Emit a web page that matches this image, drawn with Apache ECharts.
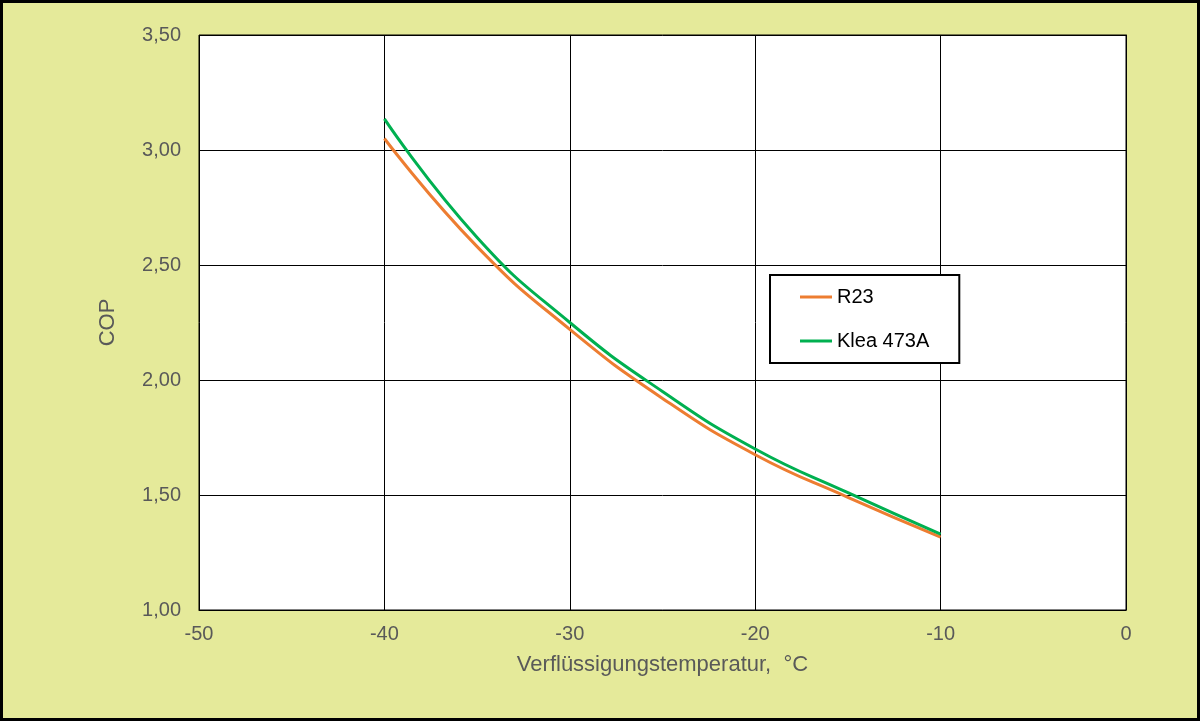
<!DOCTYPE html>
<html><head><meta charset="utf-8">
<script src="https://cdn.jsdelivr.net/npm/echarts@6/dist/echarts.min.js"></script>
<style>html,body{margin:0;padding:0;background:#e5ea9a;}#c{width:1200px;height:721px;box-sizing:border-box;border:3px solid #000;}</style>
</head><body><div id="c"></div>
<script>
const xValues = [-40, -35, -30, -25, -20, -15, -10];
const r23 = [3.05, 2.58, 2.22, 1.92, 1.675, 1.49, 1.317];
const klea = [3.135, 2.62, 2.25, 1.95, 1.70, 1.51, 1.33];
const names = ['R23', 'Klea 473A'];
const chart = echarts.init(document.getElementById('c'));
const font = 'Liberation Sans, Arial, sans-serif';
chart.setOption({
  backgroundColor: '#e5ea9a',
  animation: false,
  grid: {left: 196, top: 32, width: 927, height: 575},
  xAxis: {type: 'value', min: -50, max: 0, interval: 10,
    name: 'Verflüssigungstemperatur,  °C', nameLocation: 'middle', nameGap: 44,
    nameTextStyle: {color: '#595959', fontSize: 22, fontFamily: font},
    axisLine: {onZero: false, lineStyle: {color: '#000'}}, axisTick: {show: false},
    axisLabel: {color: '#595959', fontSize: 20, fontFamily: font, margin: 14},
    splitLine: {lineStyle: {color: '#000', width: 1}}},
  yAxis: {type: 'value', min: 1, max: 3.5, interval: 0.5,
    name: 'COP', nameLocation: 'middle', nameGap: 80,
    nameTextStyle: {color: '#595959', fontSize: 22, fontFamily: font},
    axisLine: {show: true, lineStyle: {color: '#000'}}, axisTick: {show: false},
    axisLabel: {color: '#595959', fontSize: 20, fontFamily: font, margin: 18,
      formatter: v => v.toFixed(2).replace('.', ',')},
    splitLine: {lineStyle: {color: '#000', width: 1}}},
  legend: {orient: 'vertical', left: 767, top: 272, width: 228, height: 102,
    padding: [12, 30, 12, 30], itemGap: 24, itemWidth: 32, itemHeight: 3,
    backgroundColor: '#fff', borderColor: '#000', borderWidth: 2,
    icon: 'rect', textStyle: {color: '#000', fontSize: 20, fontFamily: font},
    data: names},
  series: [
    {name: names[0], type: 'line', smooth: true, symbol: 'none', lineStyle: {color: '#ed7d31', width: 3}, itemStyle: {color: '#ed7d31'},
      data: xValues.map((x, i) => [x, r23[i]])},
    {name: names[1], type: 'line', smooth: true, symbol: 'none', lineStyle: {color: '#00b050', width: 3}, itemStyle: {color: '#00b050'},
      data: xValues.map((x, i) => [x, klea[i]])}
  ]
});
chart.on('finished', () => {});
</script>
<style>#c canvas{}</style>
<script>
// white plot background
const g = chart.getOption();
chart.setOption({grid: {show: true, backgroundColor: '#fff', borderColor: '#000', borderWidth: 1}});
</script>
</body></html>
